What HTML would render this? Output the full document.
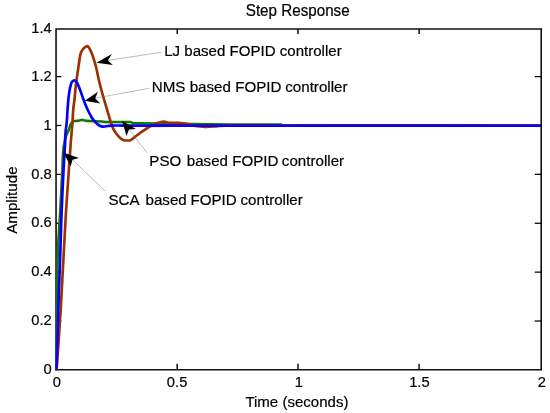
<!DOCTYPE html>
<html><head><meta charset="utf-8"><title>Step Response</title>
<style>html,body{margin:0;padding:0;background:#fff;overflow:hidden}svg{display:block}</style>
</head><body>
<svg width="550" height="413" viewBox="0 0 550 413">
<rect x="0" y="0" width="550" height="413" fill="#fff"/>
<g stroke="#111" stroke-width="1.6" fill="none">
<path d="M56.05 370.65 V29 H541.2 V369.8 H55.2"/>
</g>
<g stroke="#000" stroke-width="1.4">
<line x1="177.20" y1="369.8" x2="177.20" y2="363.7"/>
<line x1="177.20" y1="29" x2="177.20" y2="34.1"/>
<line x1="298.00" y1="369.8" x2="298.00" y2="363.7"/>
<line x1="298.00" y1="29" x2="298.00" y2="34.1"/>
<line x1="419.10" y1="369.8" x2="419.10" y2="363.7"/>
<line x1="419.10" y1="29" x2="419.10" y2="34.1"/>
<line x1="56.1" y1="321.02" x2="61.3" y2="321.02" stroke-width="1.25"/>
<line x1="541.2" y1="321.02" x2="534.7" y2="321.02" stroke-width="1.25"/>
<line x1="56.1" y1="272.14" x2="61.3" y2="272.14" stroke-width="1.25"/>
<line x1="541.2" y1="272.14" x2="534.7" y2="272.14" stroke-width="1.25"/>
<line x1="56.1" y1="223.26" x2="61.3" y2="223.26" stroke-width="1.25"/>
<line x1="541.2" y1="223.26" x2="534.7" y2="223.26" stroke-width="1.25"/>
<line x1="56.1" y1="174.38" x2="61.3" y2="174.38" stroke-width="1.25"/>
<line x1="541.2" y1="174.38" x2="534.7" y2="174.38" stroke-width="1.25"/>
<line x1="56.1" y1="125.50" x2="61.3" y2="125.50" stroke-width="1.25"/>
<line x1="541.2" y1="125.50" x2="534.7" y2="125.50" stroke-width="1.25"/>
<line x1="56.1" y1="76.62" x2="61.3" y2="76.62" stroke-width="1.25"/>
<line x1="541.2" y1="76.62" x2="534.7" y2="76.62" stroke-width="1.25"/>
</g>
<clipPath id="ax"><rect x="55.25" y="28.2" width="486.8" height="342.4"/></clipPath>
<g fill="none" stroke-linejoin="round" stroke-linecap="butt" clip-path="url(#ax)">
<path d="M56.40 369.80 C56.57 349.87 56.65 329.93 56.90 310.00 C57.15 290.00 57.05 269.98 57.90 250.00 C58.47 236.66 59.55 223.34 60.30 210.00 C61.05 196.67 61.61 183.33 62.40 170.00 C62.90 161.66 62.37 153.16 64.00 145.00 C64.74 141.30 65.46 137.49 66.90 134.00 C67.46 132.64 68.31 131.39 68.80 130.00 C69.08 129.22 69.24 128.39 69.50 127.60 C69.90 126.38 70.23 125.08 70.90 124.00 C71.30 123.36 71.73 122.68 72.30 122.20 C72.79 121.78 73.40 121.42 74.00 121.20 C74.86 120.88 75.87 121.02 76.80 120.90 C77.70 120.78 78.62 120.70 79.50 120.50 C80.38 120.30 81.23 119.70 82.10 119.70 C82.90 119.70 83.69 120.23 84.50 120.40 C85.42 120.59 86.37 120.61 87.30 120.70 C89.69 120.93 92.10 121.05 94.50 121.20 C97.00 121.35 99.50 121.48 102.00 121.60 C104.33 121.71 106.67 121.83 109.00 121.90 C111.33 121.97 113.67 121.97 116.00 122.00 L124.00 122.00 L130.50 122.00 L132.00 122.60 L133.50 123.30 L140.00 123.30 L160.00 123.50 L190.00 124.00 L230.00 124.40 L282.00 124.50" stroke="#008000" stroke-width="2.5"/>
<path d="M56.60 369.80 C57.97 349.87 59.48 329.94 60.70 310.00 C61.92 290.01 62.81 270.00 63.90 250.00 C64.62 236.67 65.28 223.33 66.10 210.00 C66.93 196.66 67.92 183.33 68.85 170.00 C69.43 161.67 69.95 153.33 70.60 145.00 C70.99 140.00 71.38 135.00 71.85 130.00 C71.99 128.47 72.16 126.93 72.30 125.40 C72.82 119.61 72.79 113.78 73.40 108.00 C73.68 105.33 74.09 102.67 74.40 100.00 C74.98 95.01 75.30 89.99 75.90 85.00 C76.50 79.99 77.27 75.00 78.00 70.00 C78.39 67.33 78.75 64.66 79.20 62.00 C79.73 58.82 79.65 55.38 81.00 52.50 C81.59 51.24 82.28 49.94 83.20 48.90 C83.87 48.15 84.63 47.40 85.50 46.90 C86.00 46.61 86.58 46.16 87.10 46.20 C87.58 46.24 88.11 46.65 88.50 47.00 C89.05 47.48 89.33 48.25 89.70 48.90 C90.36 50.05 90.87 51.29 91.40 52.50 C93.15 56.51 94.31 60.78 95.50 65.00 C97.08 70.58 97.91 76.36 99.30 82.00 C100.62 87.36 102.06 92.70 103.60 98.00 C104.31 100.44 105.08 102.86 105.80 105.30 C106.51 107.70 107.19 110.10 107.90 112.50 C108.62 114.94 109.37 117.36 110.10 119.80 C110.47 121.03 110.79 122.28 111.20 123.50 C111.65 124.85 112.11 126.21 112.70 127.50 C113.20 128.60 113.78 129.67 114.40 130.70 C115.45 132.46 116.65 134.16 118.00 135.70 C119.10 136.95 120.20 138.31 121.60 139.20 C122.29 139.63 123.03 140.07 123.80 140.30 C124.80 140.60 125.93 140.51 127.00 140.50 C128.13 140.49 129.37 140.61 130.40 140.20 C131.16 139.90 131.82 139.29 132.50 138.80 C133.47 138.11 134.36 137.33 135.30 136.60 C137.08 135.21 138.85 133.80 140.70 132.50 C142.49 131.24 144.34 130.06 146.20 128.90 C147.68 127.97 149.18 127.06 150.70 126.20 C152.11 125.40 153.51 124.52 155.00 123.90 C156.29 123.36 157.65 122.96 159.00 122.60 C160.67 122.15 162.41 121.49 164.10 121.60 C165.31 121.68 166.49 122.28 167.70 122.50 C170.09 122.94 172.57 122.79 175.00 122.90 C178.00 123.04 181.03 122.81 184.00 123.20 C186.02 123.47 188.01 123.94 190.00 124.40 C192.35 124.95 194.63 125.89 197.00 126.30 C199.94 126.81 203.00 126.78 206.00 126.80 C209.33 126.82 212.67 126.50 216.00 126.30 C219.00 126.12 222.00 125.83 225.00 125.70 C229.99 125.48 235.00 125.63 240.00 125.60 C340.33 124.96 440.67 125.60 541.00 125.60" stroke="#9c3000" stroke-width="2.67"/>
<path d="M56.50 369.80 C57.10 349.87 57.65 329.93 58.30 310.00 C58.95 290.00 59.73 270.00 60.40 250.00 C60.85 236.67 61.18 223.33 61.70 210.00 C62.23 196.66 62.84 183.33 63.55 170.00 C64.00 161.66 64.56 153.34 65.00 145.00 C65.26 140.00 65.14 134.97 65.75 130.00 C65.93 128.50 66.21 127.00 66.40 125.50 C66.97 121.03 67.05 116.50 67.40 112.00 C67.75 107.40 67.97 102.78 68.50 98.20 C68.73 96.18 68.97 94.16 69.30 92.15 C69.63 90.12 69.93 88.07 70.50 86.10 C70.91 84.68 71.05 82.95 72.00 81.90 C72.61 81.22 73.62 80.25 74.40 80.30 C75.12 80.35 75.91 81.28 76.50 81.90 C77.55 83.01 77.96 84.67 78.60 86.10 C79.48 88.07 80.16 90.12 80.90 92.15 C81.63 94.16 82.27 96.19 83.00 98.20 C83.68 100.07 84.36 101.95 85.10 103.80 C85.80 105.55 86.51 107.29 87.30 109.00 C88.08 110.69 88.93 112.35 89.80 114.00 C90.51 115.35 91.16 116.74 92.00 118.00 C92.75 119.12 93.61 120.19 94.50 121.20 C95.40 122.22 96.33 123.27 97.40 124.10 C98.29 124.79 99.26 125.47 100.30 125.90 C101.42 126.36 102.70 126.68 103.90 126.70 C105.13 126.72 106.36 126.19 107.60 126.00 C108.79 125.82 110.00 125.70 111.20 125.60 C114.85 125.30 118.53 125.60 122.20 125.60 C261.87 125.60 401.53 125.60 541.20 125.60" stroke="#0000ff" stroke-width="2.67"/>
<path d="M56.30 369.80 C56.43 349.87 56.50 329.93 56.70 310.00 C56.90 290.00 56.76 269.98 57.50 250.00 C57.99 236.66 58.92 223.33 59.60 210.00 C60.28 196.67 60.82 183.33 61.60 170.00 C62.09 161.66 62.28 153.29 63.20 145.00 C63.76 139.99 64.37 134.96 65.30 130.00 C65.93 126.65 66.04 123.05 67.50 120.00 C68.01 118.93 68.38 117.62 69.30 116.90 C69.60 116.67 69.96 116.36 70.30 116.30 C70.84 116.20 71.44 116.75 72.00 117.00 C73.66 117.74 75.14 118.87 76.80 119.60 C78.75 120.46 80.84 121.04 82.90 121.60 C85.04 122.18 87.21 122.65 89.40 123.00 C91.09 123.27 92.80 123.46 94.50 123.60 C97.98 123.89 101.50 123.67 105.00 123.70 C110.00 123.74 115.00 123.71 120.00 123.80 C122.67 123.85 125.37 123.62 128.00 124.00 C129.68 124.24 131.33 124.76 133.00 125.10 C154.85 129.56 177.67 125.17 200.00 125.20 C313.73 125.34 427.47 125.20 541.20 125.20" stroke="#ff0000" stroke-width="0.5" stroke-opacity="0.45"/>
</g>
<g font-family="Liberation Sans, sans-serif" font-size="15.20" fill="#000" stroke="#000" stroke-width="0.2">
<text transform="translate(297.70,15.60) scale(1.0000,1.0500)" text-anchor="middle">Step Response</text>
<text transform="translate(296.90,406.70) scale(0.9900,1.0000)" text-anchor="middle">Time (seconds)</text>
<text transform="translate(17.40,200.10) rotate(-90) scale(1.0000,0.9600)" text-anchor="middle">Amplitude</text>
<text transform="translate(56.80,386.90) scale(0.9700,0.9500)" text-anchor="middle">0</text>
<text transform="translate(177.10,386.90) scale(0.9700,0.9500)" text-anchor="middle">0.5</text>
<text transform="translate(298.90,386.90) scale(0.9700,0.9500)" text-anchor="middle">1</text>
<text transform="translate(419.40,386.90) scale(0.9700,0.9500)" text-anchor="middle">1.5</text>
<text transform="translate(541.80,386.90) scale(0.9700,0.9500)" text-anchor="middle">2</text>
<text transform="translate(51.80,374.10) scale(0.9700,0.9500)" text-anchor="end">0</text>
<text transform="translate(51.80,325.22) scale(0.9700,0.9500)" text-anchor="end">0.2</text>
<text transform="translate(51.80,276.34) scale(0.9700,0.9500)" text-anchor="end">0.4</text>
<text transform="translate(51.80,227.46) scale(0.9700,0.9500)" text-anchor="end">0.6</text>
<text transform="translate(51.80,178.58) scale(0.9700,0.9500)" text-anchor="end">0.8</text>
<text transform="translate(51.80,129.70) scale(0.9700,0.9500)" text-anchor="end">1</text>
<text transform="translate(51.80,80.82) scale(0.9700,0.9500)" text-anchor="end">1.2</text>
<text transform="translate(51.80,32.64) scale(0.9700,0.9500)" text-anchor="end">1.4</text>
<text transform="translate(164.20,56.20) scale(0.9920,0.9800)"><tspan dx="0.00">LJ</tspan><tspan dx="0.00"> based</tspan><tspan dx="0.00"> FOPID</tspan><tspan dx="0.00"> controller</tspan></text>
<text transform="translate(151.80,91.80) scale(0.9970,0.9800)"><tspan dx="0.00">NMS</tspan><tspan dx="0.00"> based</tspan><tspan dx="0.00"> FOPID</tspan><tspan dx="-0.40"> controller</tspan></text>
<text transform="translate(148.80,165.70) scale(0.9970,1.0000)"><tspan dx="0.50">PSO</tspan><tspan dx="1.30"> based</tspan><tspan dx="0.00"> FOPID</tspan><tspan dx="-0.80"> controller</tspan></text>
<text transform="translate(107.50,204.90) scale(0.9970,1.0000)"><tspan dx="0.90">SCA</tspan><tspan dx="1.81"> based</tspan><tspan dx="-0.50"> FOPID</tspan><tspan dx="-0.40"> controller</tspan></text>
</g>
<line x1="107.85" y1="60.40" x2="161.75" y2="52.25" stroke="#777" stroke-width="0.5"/><polygon points="96.40,62.65 111.90,54.10 107.85,60.40 112.80,65.10" fill="#000"/>
<line x1="95.20" y1="98.20" x2="149.30" y2="88.25" stroke="#777" stroke-width="0.5"/><polygon points="84.80,100.70 97.90,91.80 95.20,98.20 100.10,103.40" fill="#000"/>
<line x1="129.00" y1="129.50" x2="147.10" y2="152.90" stroke="#777" stroke-width="0.5"/><polygon points="122.05,120.80 135.90,128.90 129.00,129.50 126.50,135.90" fill="#000"/>
<line x1="72.50" y1="159.80" x2="105.10" y2="191.00" stroke="#777" stroke-width="0.5"/><polygon points="63.30,152.40 79.00,158.00 72.50,159.80 70.70,166.20" fill="#000"/>
</svg>
</body></html>
